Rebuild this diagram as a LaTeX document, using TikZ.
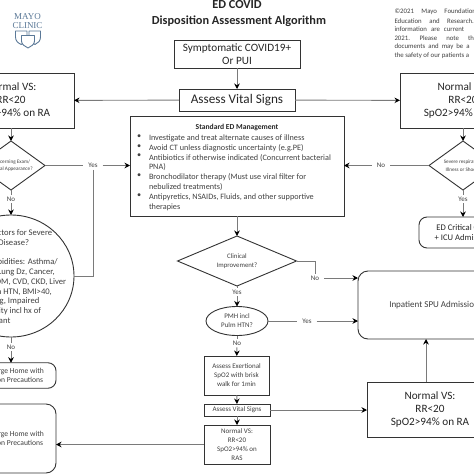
\documentclass[tikz,border=0pt]{standalone}
\usepackage{fontspec}
\setmainfont{Carlito}
\newfontfamily\logofont{Liberation Serif}
\usetikzlibrary{arrows.meta,shapes.geometric,calc}
\definecolor{linegray}{HTML}{7A7A7A}
\definecolor{edgedark}{HTML}{333333}
\definecolor{inkdark}{HTML}{262626}
\definecolor{inksoft}{HTML}{404040}
\definecolor{logoblue}{HTML}{5A7897}
\newcommand{\fs}[2]{\fontsize{#1}{#2}\selectfont}
\tikzset{
  x=1pt,y=-1pt,
  every node/.style={text=inkdark,inner sep=0pt,outer sep=0pt},
  flow/.style={draw=linegray,line width=0.9pt},
  arrowline/.style={flow,-{Stealth[length=5.5pt,width=5.5pt,color=black]}},
  sqbox/.style={draw=edgedark,line width=0.9pt,fill=white,align=center},
  rbox/.style={sqbox,rounded corners=8pt},
  dmd/.style={diamond,aspect=1.4,draw=edgedark,line width=0.9pt,fill=white,align=center,text=inksoft},
  ell/.style={ellipse,draw=edgedark,line width=0.9pt,fill=white,align=center},
  lbl/.style={fill=white,text=inksoft,font=\fs{7}{8},inner xsep=5pt,inner ysep=2pt},
  big/.style={font=\fs{11.2}{13.4}},
  mid/.style={font=\fs{7.6}{9},text=inksoft},
  tiny/.style={font=\fs{7}{9},text=inksoft},
  copytext/.style={anchor=west,font=\fs{6.8}{8},text=inksoft},
  mainlist/.style={anchor=north west,align=left,font=\fs{8.2}{9.8},text=inksoft},
  shield/.style={draw=logoblue,line width=0.9pt,line join=round},
}
\begin{document}
\begin{tikzpicture}
\useasboundingbox (0,0) rectangle (474,474);
\clip (0,0) rectangle (474,474);
\fill[white] (0,0) rectangle (474,474);

% logo
\node[text=logoblue,font=\logofont\fs{9}{8.4},align=center] (logo) at (27.5,21) {MAYO\\CLINIC};
\draw[shield] (15.5,31) -- (27,31) -- (27,37) .. controls (27,41) and (24,43) .. (21.2,44.5) .. controls (18,43) and (15.5,41) .. (15.5,37) -- cycle;
\draw[shield] (29,31) -- (40.5,31) -- (40.5,37) .. controls (40.5,41) and (38,43) .. (35,44.5) .. controls (32,43) and (29,41) .. (29,37) -- cycle;
\draw[shield,fill=white] (21.5,35.5) -- (34.5,35.5) -- (34.5,41) .. controls (34.5,44.5) and (31,46.5) .. (28,48) .. controls (25,46.5) and (21.5,44.5) .. (21.5,41) -- cycle;

% titles
\node[font=\bfseries\fs{12.3}{14}] (t1) at (237,5) {ED COVID};
\node[font=\bfseries\fs{12.3}{14}] (t2) at (239,21.5) {Disposition Assessment Algorithm};

% copyright
\node[copytext] (c1) at (394.5,12) {\spaceskip=7.5pt\relax ©2021 Mayo Foundation for Medical};
\node[copytext] (c2) at (394.5,20.7) {\spaceskip=7.5pt\relax Education and Research.};
\node[copytext] (c3) at (394.5,29.4) {\spaceskip=4pt\relax information are current};
\node[copytext] (c4) at (394.5,38.1) {\spaceskip=9pt\relax 2021. Please note that};
\node[copytext] (c5) at (394.5,46.8) {\spaceskip=3pt\relax documents and may be a};
\node[copytext] (c6) at (394.5,55.5) {\spaceskip=1.6pt\relax the safety of our patients a};

% main boxes
\node[sqbox,minimum width=126pt,minimum height=28pt,big] (sym) at (237,54) {Symptomatic COVID19+\\Or PUI};
\node[sqbox,minimum width=116pt,minimum height=22pt,font=\fs{13.2}{15}] (avs) at (237,100) {Assess Vital Signs};
\node[sqbox,minimum width=214pt,minimum height=100pt] (std) at (237,166) {};
\node[font=\bfseries\fs{7.6}{9},text=inkdark] (stdt) at (237,127) {Standard ED Management};
\node[mainlist] (stdb) at (137,134.5) {•};
\node[mainlist] (stdl) at (149,134.8) {Investigate and treat alternate causes of illness\\Avoid CT unless diagnostic uncertainty (e.g.PE)\\Antibiotics if otherwise indicated (Concurrent bacterial\\PNA)\\Bronchodilator therapy (Must use viral filter for\\nebulized treatments)\\Antipyretics, NSAIDs, Fluids, and other supportive\\therapies};
\node[mainlist] (b2) at (137,144.3) {•};
\node[mainlist] (b3) at (137,154.1) {•};
\node[mainlist] (b4) at (137,173.7) {•};
\node[mainlist] (b5) at (137,193.3) {•};

\node[sqbox,minimum width=126pt,minimum height=55pt,big] (nl) at (11,100.5) {Normal VS:\\RR<20\\SpO2>94\% on RA};
\node[sqbox,minimum width=126pt,minimum height=55pt,big] (nr) at (463,100.5) {Normal VS:\\RR<20\\SpO2>94\% on RA};
\node[dmd,minimum width=68pt,minimum height=49pt,font=\fs{5.2}{7.5}] (dl) at (11,165.5) {Concerning Exam/\\Critical Appearance?};
\node[dmd,minimum width=68pt,minimum height=49pt,font=\fs{5.2}{7.5}] (dr) at (463,165.5) {Severe respiratory\\Illness or Shock?};
\node[rbox,minimum width=88pt,minimum height=31pt,font=\fs{8.6}{10.5},text=inkdark] (ed) at (463,232.5) {ED Critical Care\\+ ICU Admission};

\node[ell,minimum width=126pt,minimum height=122pt] (circ) at (11,276) {};
\node[anchor=north west,align=left,font=\fs{8.6}{9.75},text=inksoft] (rf) at (-26,229.5) {Risk Factors for Severe\\COVID Disease?\\[10pt]Comorbidities: Asthma/\\COPD, Lung Dz, Cancer,\\ESRD, DM, CVD, CKD, Liver\\Dz, Non HTN, BMI>40,\\Smoking, Impaired\\Immunity incl hx of\\Transplant};

\node[rbox,minimum width=90pt,minimum height=25.5pt,mid] (dc1) at (11,375.5) {Discharge Home with\\Isolation Precautions};
\node[rbox,minimum width=90pt,minimum height=69pt,mid,rounded corners=10pt] (dc2) at (11,438.5) {Discharge Home with\\Isolation Precautions};

\node[dmd,minimum width=119pt,minimum height=50pt,font=\fs{6.8}{9}] (clin) at (237,261) {Clinical\\Improvement?};
\node[ell,minimum width=62pt,minimum height=29pt,tiny] (pmh) at (237,321) {PMH incl\\Pulm HTN?};
\node[sqbox,minimum width=65pt,minimum height=39pt,tiny] (ex) at (236.5,375.5) {Assess Exertional\\SpO2 with brisk\\walk for 1min};
\node[sqbox,minimum width=66pt,minimum height=12pt,tiny] (avs2) at (237,410) {Assess Vital Signs};
\node[sqbox,minimum width=66pt,minimum height=39pt,tiny] (ns) at (237,444.5) {Normal VS:\\RR<20\\SpO2>94\% on\\RAS};

\node[rbox,minimum width=152pt,minimum height=68pt,font=\fs{9}{10.6},text=inksoft,rounded corners=10pt] (inp) at (434,305) {Inpatient SPU Admission};
\node[sqbox,minimum width=126pt,minimum height=55pt,big] (nlow) at (430,409.5) {Normal VS:\\RR<20\\SpO2>94\% on RA};

% labels
\node[lbl] (yl) at (93,165.5) {Yes};
\node[lbl] (nl2) at (11,199) {No};
\node[lbl] (nd) at (11,347) {No};
\node[lbl] (nrl) at (381,165.5) {No};
\node[lbl] (yr) at (463,199) {Yes};
\node[lbl] (yc) at (237,292) {Yes};
\node[lbl] (no2) at (237,343) {No};
\node[lbl] (no3) at (315,278) {No};
\node[lbl] (yes3) at (307,321) {Yes};
\coordinate (bend) at (93,276);

% connectors
\draw[arrowline] (sym) -- (avs);
\draw[arrowline] (avs) -- (nl);
\draw[arrowline] (avs) -- (nr);
\draw[arrowline] (nl) -- (dl);
\draw[arrowline] (nr) -- (dr);
\draw[flow] (dl) -- (yl);
\draw[arrowline] (yl) -- (std.west |- yl);
\draw[flow] (yl) -- (bend) -- (circ.east |- bend);
\draw[flow] (dl) -- (nl2);
\draw[arrowline] (nl2) -- (circ);
\draw[flow] (circ) -- (nd);
\draw[arrowline] (nd) -- (dc1);
\draw[flow] (dr) -- (nrl);
\draw[arrowline] (nrl) -- (std.east |- nrl);
\draw[flow] (dr) -- (yr);
\draw[arrowline] (yr) -- (ed);
\draw[arrowline] (std) -- (clin);
\draw[flow] (clin) -- (yc);
\draw[arrowline] (yc) -- (pmh);
\draw[flow] (pmh) -- (no2);
\draw[arrowline] (no2) -- (ex);
\draw[arrowline] (ex) -- (avs2);
\draw[arrowline] (avs2) -- (ns);
\draw[flow] (clin.east) -| (no3);
\draw[arrowline] (no3) -- (inp.west |- no3);
\draw[flow] (pmh) -- (yes3);
\draw[arrowline] (yes3) -- (inp.west |- yes3);
\draw[arrowline] (avs2) -- (nlow.west |- avs2);
\draw[arrowline] ($(nlow.north)+(-4,0)$) -- ($(inp.south)+(-8,0)$);
\draw[arrowline] (ns) -- (dc2.east |- ns);
\end{tikzpicture}
\end{document}
